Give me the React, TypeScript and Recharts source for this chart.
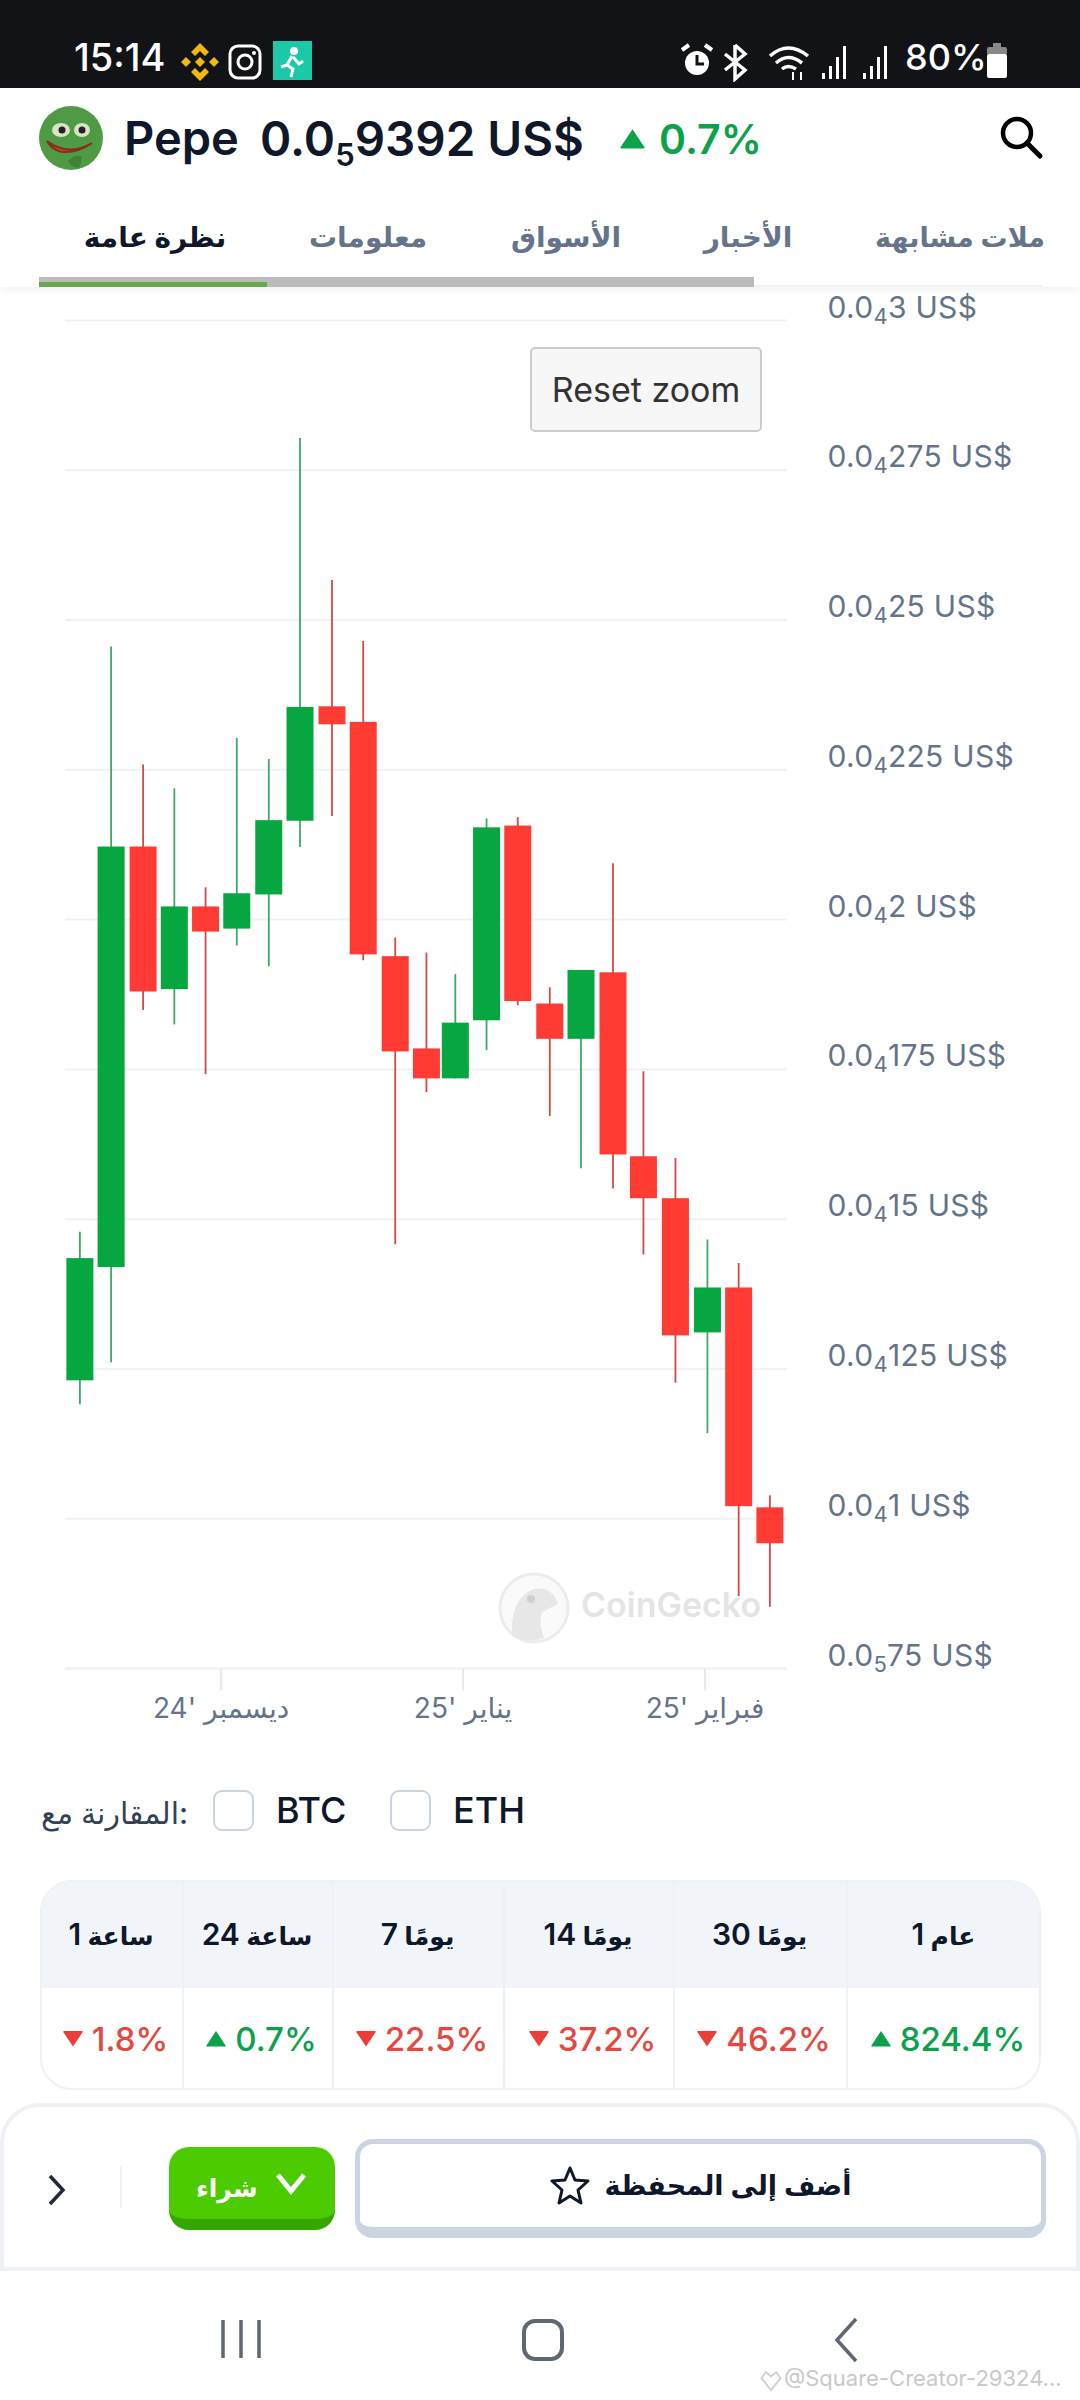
import React from 'react';
import { ComposedChart, Bar, XAxis, YAxis, CartesianGrid } from 'recharts';

// days counted from 1 Dec 2024, prices in units of 0.00001 US$
const candleDays = [-18.1, -14.1, -10, -6, -2, 2, 6.1, 10.1, 14.2, 18.2, 22.3, 26.3, 30, 34, 38, 42.1, 46.1, 50.2, 54.1, 58.2, 62.3, 66.3, 70.3];
const openValues = [1.231, 1.42, 2.122, 1.884, 2.022, 1.985, 2.042, 2.165, 2.356, 2.33, 1.939, 1.785, 1.735, 1.832, 2.157, 1.86, 1.801, 1.912, 1.605, 1.535, 1.311, 1.386, 1.019];
const closeValues = [1.435, 2.122, 1.88, 2.022, 1.98, 2.044, 2.166, 2.355, 2.326, 1.942, 1.78, 1.735, 1.828, 2.154, 1.864, 1.801, 1.916, 1.608, 1.535, 1.306, 1.386, 1.021, 0.959];
const lowValues = [1.191, 1.261, 1.849, 1.825, 1.742, 1.957, 1.922, 2.121, 2.173, 1.932, 1.458, 1.712, 1.735, 1.782, 1.857, 1.672, 1.585, 1.551, 1.441, 1.227, 1.143, 0.871, 0.853];
const highValues = [1.479, 2.456, 2.259, 2.219, 2.054, 2.303, 2.268, 2.804, 2.567, 2.465, 1.97, 1.945, 1.909, 2.169, 2.171, 1.887, 1.916, 2.094, 1.747, 1.602, 1.466, 1.427, 1.039];

const yTicks = [3, 2.75, 2.5, 2.25, 2, 1.75, 1.5, 1.25, 1, 0.75];
const yTickZeros = ['4', '4', '4', '4', '4', '4', '4', '4', '4', '5'];
const yTickDigits = ['3', '275', '25', '225', '2', '175', '15', '125', '1', '75'];
const xTicks = [0, 31, 62];
const xTickLabels = ["ديسمبر '24", "يناير '25", "فبراير '25"];

const tabLabels = ['نظرة عامة', 'معلومات', 'الأسواق', 'الأخبار'];
const tabCenters = [155, 368, 566, 748];
const periodWords = ['ساعة', 'ساعة', 'يومًا', 'يومًا', 'يومًا', 'عام'];
const periodNumbers = ['1', '24', '7', '14', '30', '1'];
const periodChanges = ['1.8%', '0.7%', '22.5%', '37.2%', '46.2%', '824.4%'];
const periodUp = [false, true, false, false, false, true];
const columnEdges = [40, 182, 332, 503, 673, 846, 1041];

const candles = candleDays.map((day, i) => ({
  day,
  open: openValues[i],
  close: closeValues[i],
  low: lowValues[i],
  high: highValues[i],
  range: [lowValues[i], highValues[i]],
}));

const UI_FONT = "Inter, 'DejaVu Sans', sans-serif";
const GREEN = '#06a640';
const RED = '#ff3b34';
const SLATE = '#64748b';
const INK = '#0f172a';

const Candle = (props: any) => {
  const { x, y, width, height, payload } = props;
  const { open, close, low, high } = payload;
  const up = close >= open;
  const perUnit = height / (high - low);
  const top = y + (high - Math.max(open, close)) * perUnit;
  const bodyHeight = Math.abs(open - close) * perUnit;
  const mid = x + width / 2;
  return (
    <g>
      <line x1={mid} x2={mid} y1={y} y2={y + height} stroke={up ? '#3fa866' : '#d24b48'} strokeWidth={1.8} />
      <rect x={x} y={top} width={width} height={bodyHeight} fill={up ? GREEN : RED} />
    </g>
  );
};

const PriceTick = (props: any) => {
  const { y, index } = props;
  return (
    <text x={827.5} y={y - 3} fill={SLATE} fontFamily={UI_FONT} fontSize={30} letterSpacing={0.3}>
      <tspan>0.0</tspan>
      <tspan fontSize={22} dy={6}>{yTickZeros[index]}</tspan>
      <tspan dy={-6}>{yTickDigits[index]} US$</tspan>
    </text>
  );
};

const DateTick = (props: any) => {
  const { x, y, index } = props;
  return (
    <text x={x} y={y + 25} fill={SLATE} fontFamily={UI_FONT} fontSize={28} textAnchor="middle" style={{ direction: 'rtl' }}>
      {xTickLabels[index]}
    </text>
  );
};

const Text = ({ x, y, size, color = INK, weight = 400, rtl = false, center = false, children }: any) => (
  <div
    style={{
      position: 'absolute',
      left: x,
      top: y,
      transform: center ? 'translate(-50%, -50%)' : 'translateY(-50%)',
      fontFamily: UI_FONT,
      fontSize: size,
      fontWeight: weight,
      color,
      whiteSpace: 'nowrap',
      direction: rtl ? 'rtl' : 'ltr',
      lineHeight: 1.2,
    }}
  >
    {children}
  </div>
);

const Triangle = ({ up, size = 22 }: { up: boolean; size?: number }) => (
  <svg width={size} height={size * 0.8} viewBox="0 0 22 18" style={{ display: 'block' }}>
    <path
      d={up ? 'M11 1 L21 16 Q21 17 20 17 L2 17 Q1 17 1 16 Z' : 'M11 17 L21 2 Q21 1 20 1 L2 1 Q1 1 1 2 Z'}
      fill={up ? '#0ba24b' : '#ea3f38'}
    />
  </svg>
);

const StatusBar = () => (
  <div style={{ position: 'absolute', left: 0, top: 0, width: 1080, height: 88, background: '#121317' }}>
    <Text x={74} y={58} size={38} color="#fff" weight={500}>15:14</Text>
    <svg style={{ position: 'absolute', left: 178, top: 40 }} width={44} height={44} viewBox="0 0 44 44">
      <g fill="#f0b90b">
        <path d="M22 3 L31 12 L27 16 L22 11 L17 16 L13 12 Z" />
        <path d="M22 41 L31 32 L27 28 L22 33 L17 28 L13 32 Z" />
        <path d="M8 17 L13 22 L8 27 L3 22 Z" />
        <path d="M36 17 L41 22 L36 27 L31 22 Z" />
        <path d="M22 17 L27 22 L22 27 L17 22 Z" />
      </g>
    </svg>
    <svg style={{ position: 'absolute', left: 228, top: 44 }} width={34} height={36} viewBox="0 0 34 36">
      <rect x="2" y="2" width="30" height="32" rx="8" fill="none" stroke="#fff" strokeWidth="3" />
      <circle cx="17" cy="18" r="7" fill="none" stroke="#fff" strokeWidth="3" />
      <circle cx="26" cy="9" r="2" fill="#fff" />
    </svg>
    <div style={{ position: 'absolute', left: 273, top: 41, width: 39, height: 39, background: '#1dc8a8' }}>
      <svg width={39} height={39} viewBox="0 0 39 39">
        <circle cx="21" cy="10" r="4" fill="#fff" />
        <path d="M19 15 L14 24 L20 28 L18 36 M20 16 L26 23 L30 20 M14 24 L8 26" fill="none" stroke="#fff" strokeWidth="3" />
      </svg>
    </div>
    <svg style={{ position: 'absolute', left: 680, top: 42 }} width={220} height={40} viewBox="0 0 220 40">
      <circle cx="17" cy="21" r="12" fill="#fff" />
      <path d="M17 13 V22 H24" stroke="#121317" strokeWidth="3" fill="none" />
      <path d="M2 8 L9 3 M32 8 L25 3" stroke="#fff" strokeWidth="4" />
      <path d="M55 3 L55 37 L65 28 L45 12 M55 3 L65 12 L45 28" stroke="#fff" strokeWidth="3.5" fill="none" />
      <path d="M90 14 Q108 -2 128 14 M96 21 Q108 10 122 21 M102 27 Q108 22 116 27" stroke="#fff" strokeWidth="3.5" fill="none" />
      <path d="M113 30 V38 M121 30 V38" stroke="#fff" strokeWidth="2" />
      <g fill="#fff">
        <rect x="142" y="31" width="3" height="6" />
        <rect x="149" y="24" width="3" height="13" />
        <rect x="156" y="15" width="3" height="22" />
        <rect x="163" y="4" width="3" height="33" />
        <rect x="183" y="31" width="3" height="6" />
        <rect x="190" y="24" width="3" height="13" />
        <rect x="197" y="15" width="3" height="22" />
        <rect x="204" y="4" width="3" height="33" />
      </g>
    </svg>
    <Text x={905} y={58} size={36} color="#fff" weight={500}>80%</Text>
    <svg style={{ position: 'absolute', left: 985, top: 43 }} width={24} height={36} viewBox="0 0 24 36">
      <rect x="8" y="0" width="8" height="5" fill="#888" />
      <rect x="2" y="4" width="20" height="8" rx="2" fill="#888" />
      <rect x="2" y="11" width="20" height="24" rx="2" fill="#fff" />
    </svg>
  </div>
);

const Header = () => (
  <div style={{ position: 'absolute', left: 0, top: 88, width: 1080, height: 199, background: '#fff', boxShadow: '0 3px 8px rgba(15,23,42,0.06)', zIndex: 3 }}>
    <svg style={{ position: 'absolute', left: 38, top: 17 }} width={66} height={66} viewBox="0 0 66 66">
      <circle cx="33" cy="33" r="32" fill="#4f9a44" />
      <ellipse cx="23" cy="25" rx="9" ry="7" fill="#d8e5c4" />
      <ellipse cx="44" cy="25" rx="8" ry="7" fill="#d8e5c4" />
      <circle cx="24" cy="25" r="3.5" fill="#222" />
      <circle cx="44" cy="25" r="3.5" fill="#222" />
      <path d="M9 36 Q30 52 54 38 Q40 48 24 47 Q14 45 9 36 Z" fill="#c8402e" stroke="#8a2c1e" strokeWidth="2" />
      <path d="M30 56 Q38 48 44 52 L42 62 Q34 64 30 56 Z" fill="#3e8436" />
    </svg>
    <Text x={124} y={50} size={47} weight={600}>Pepe</Text>
    <Text x={260} y={50} size={47.5} weight={600}>
      0.0<span style={{ fontSize: 31, position: 'relative', top: 10 }}>5</span>9392 US$
    </Text>
    <div style={{ position: 'absolute', left: 619, top: 40 }}><Triangle up size={27} /></div>
    <Text x={659} y={52} size={41} weight={600} color="#0ba24b">0.7%</Text>
    <svg style={{ position: 'absolute', left: 998, top: 26 }} width={46} height={46} viewBox="0 0 46 46">
      <circle cx="19" cy="19" r="14" fill="none" stroke="#000" strokeWidth="4.5" />
      <path d="M29 29 L42 42" stroke="#000" strokeWidth="5" strokeLinecap="round" />
    </svg>
    {tabLabels.map((label, i) => (
      <Text key={label} x={tabCenters[i]} y={150} size={28} weight={i === 0 ? 700 : 600} color={i === 0 ? INK : SLATE} rtl center>
        {label}
      </Text>
    ))}
    <Text x={960} y={150} size={27} weight={600} color={SLATE} rtl center>ملات مشابهة</Text>
    <div style={{ position: 'absolute', left: 39, top: 197, width: 1003, height: 2, background: '#eef1f5' }} />
    <div style={{ position: 'absolute', left: 39, top: 189, width: 715, height: 10, background: '#bbbbbb' }} />
    <div style={{ position: 'absolute', left: 39, top: 194, width: 228, height: 5, background: '#6aa84f' }} />
  </div>
);

const CandleChart = () => (
  <div style={{ position: 'absolute', left: 0, top: 290, width: 1080, height: 1440 }}>
    <svg style={{ position: 'absolute', left: 498, top: 1282 }} width={72} height={72} viewBox="0 0 72 72">
      <circle cx="36" cy="36" r="34" fill="#fafafa" stroke="#ececec" strokeWidth="3" />
      <path d="M14 64 Q12 26 36 17 Q54 14 60 32 L44 40 Q40 50 46 66 Q30 72 14 64 Z" fill="#e7e7e7" />
      <circle cx="33" cy="27" r="4" fill="#cfcfcf" />
    </svg>
    <div style={{ position: 'absolute', left: 581, top: 1294, fontFamily: UI_FONT, fontSize: 34, fontWeight: 600, color: '#e4e4e4' }}>CoinGecko</div>
    <ComposedChart width={1080} height={1440} data={candles} margin={{ top: 30.5, right: 0, bottom: 0, left: 65 }}>
      <CartesianGrid vertical={false} stroke="#eef1f6" strokeWidth={2} />
      <XAxis
        dataKey="day"
        type="number"
        scale="linear"
        domain={[-20, 72.5]}
        ticks={xTicks}
        interval={0}
        height={61.5}
        tickSize={22}
        tickLine={{ stroke: '#e6eaf0', strokeWidth: 2 }}
        axisLine={{ stroke: '#eef1f6', strokeWidth: 2 }}
        tick={<DateTick />}
      />
      <YAxis
        orientation="right"
        type="number"
        domain={[0.75, 3]}
        ticks={yTicks}
        interval={0}
        width={293}
        axisLine={false}
        tickLine={false}
        tick={<PriceTick />}
      />
      <Bar dataKey="range" barSize={27} shape={<Candle />} isAnimationActive={false} />
    </ComposedChart>
    <button
      style={{
        position: 'absolute', left: 530, top: 57, width: 232, height: 85, background: '#f7f7f7',
        border: '2px solid #cccccc', borderRadius: 5, fontFamily: UI_FONT, fontSize: 34, color: '#333', padding: 0,
      }}
    >
      Reset zoom
    </button>
  </div>
);

const Compare = () => (
  <>
    <Text x={41} y={1813} size={30} weight={500} color="#334155">المقارنة مع:</Text>
    <div style={{ position: 'absolute', left: 213, top: 1790, width: 41, height: 41, boxSizing: 'border-box', border: '2px solid #cbd5e1', borderRadius: 9, background: '#fff' }} />
    <Text x={276} y={1811} size={36} weight={500}>BTC</Text>
    <div style={{ position: 'absolute', left: 390, top: 1790, width: 41, height: 41, boxSizing: 'border-box', border: '2px solid #cbd5e1', borderRadius: 9, background: '#fff' }} />
    <Text x={453} y={1811} size={36} weight={500}>ETH</Text>
  </>
);

const ChangeTable = () => (
  <div style={{ position: 'absolute', left: 40, top: 1880, width: 1001, height: 210, boxSizing: 'border-box', border: '2px solid #eef1f6', borderRadius: 32, overflow: 'hidden', background: '#fff' }}>
    <div style={{ position: 'absolute', left: 0, top: 0, width: 1001, height: 106, background: '#f1f5f9' }} />
    {periodChanges.map((change, i) => {
      const left = columnEdges[i] - 42;
      const width = columnEdges[i + 1] - columnEdges[i];
      return (
        <React.Fragment key={change}>
          {i > 0 && <div style={{ position: 'absolute', left, top: 0, width: 2, height: 210, background: '#eef1f6' }} />}
          <Text x={left + width / 2} y={52} size={25} weight={600} rtl center>
            {periodWords[i]} <span style={{ fontSize: 30, fontWeight: 600 }}>{periodNumbers[i]}</span>
          </Text>
          <div style={{ position: 'absolute', left: left + 4, top: 107, width, height: 100, display: 'flex', alignItems: 'center', justifyContent: 'center', gap: 8 }}>
            <Triangle up={periodUp[i]} />
            <span style={{ fontFamily: UI_FONT, fontSize: 33, fontWeight: 500, color: periodUp[i] ? '#0ba24b' : '#e5483f' }}>{change}</span>
          </div>
        </React.Fragment>
      );
    })}
  </div>
);

const BottomBar = () => (
  <>
    <div style={{ position: 'absolute', left: 0, top: 2103, width: 1080, height: 168, boxSizing: 'border-box', border: '4px solid #eef1f5', borderRadius: '40px 40px 0 0', background: '#fff' }} />
    <svg style={{ position: 'absolute', left: 46, top: 2172 }} width={22} height={36} viewBox="0 0 22 36">
      <path d="M4 4 L17 18 L4 32" fill="none" stroke="#1e293b" strokeWidth="3.5" />
    </svg>
    <div style={{ position: 'absolute', left: 120, top: 2166, width: 2, height: 42, background: '#eef1f5' }} />
    <div style={{ position: 'absolute', left: 169, top: 2147, width: 166, height: 83, boxSizing: 'border-box', background: '#4ccb00', borderBottom: '11px solid #35a800', borderRadius: 20 }} />
    <Text x={196} y={2188} size={25} weight={700} color="#fff" rtl>شراء</Text>
    <svg style={{ position: 'absolute', left: 274, top: 2170 }} width={34} height={26} viewBox="0 0 34 26">
      <path d="M4 5 L17 21 L30 5" fill="none" stroke="#fff" strokeWidth="5" />
    </svg>
    <div style={{ position: 'absolute', left: 355, top: 2139, width: 691, height: 99, boxSizing: 'border-box', background: '#fff', border: '5px solid #cbd5e1', borderBottomWidth: 11, borderRadius: 18 }} />
    <svg style={{ position: 'absolute', left: 550, top: 2165 }} width={40} height={40} viewBox="0 0 40 40">
      <path d="M20 3 L25 15 L38 16 L28 25 L31 38 L20 31 L9 38 L12 25 L2 16 L15 15 Z" fill="none" stroke="#0f172a" strokeWidth="3" strokeLinejoin="round" />
    </svg>
    <Text x={728} y={2186} size={27} weight={600} rtl center>أضف إلى المحفظة</Text>
    <svg style={{ position: 'absolute', left: 210, top: 2315 }} width={660} height={50} viewBox="0 0 660 50">
      <path d="M13 5 V43 M31 5 V43 M49 5 V43" stroke="#5f6773" strokeWidth="3.5" />
      <rect x="314" y="6" width="38" height="38" rx="11" fill="none" stroke="#5f6773" strokeWidth="4" />
      <path d="M646 4 L627 25 L646 46" fill="none" stroke="#5f6773" strokeWidth="3.5" />
    </svg>
    <Text x={784} y={2378} size={22} color="#c9c9c9">@Square-Creator-29324...</Text>
    <svg style={{ position: 'absolute', left: 758, top: 2364 }} width={26} height={30} viewBox="0 0 30 30">
      <path d="M15 28 L4 14 L9 7 L15 12 L21 7 L26 14 Z" fill="none" stroke="#cfcfcf" strokeWidth="2" />
    </svg>
  </>
);

export default function App() {
  return (
    <div style={{ position: 'absolute', left: 0, top: 0, width: 1080, height: 2400, background: '#fff', overflow: 'hidden' }}>
      <CandleChart />
      <StatusBar />
      <Header />
      <Compare />
      <ChangeTable />
      <BottomBar />
    </div>
  );
}
